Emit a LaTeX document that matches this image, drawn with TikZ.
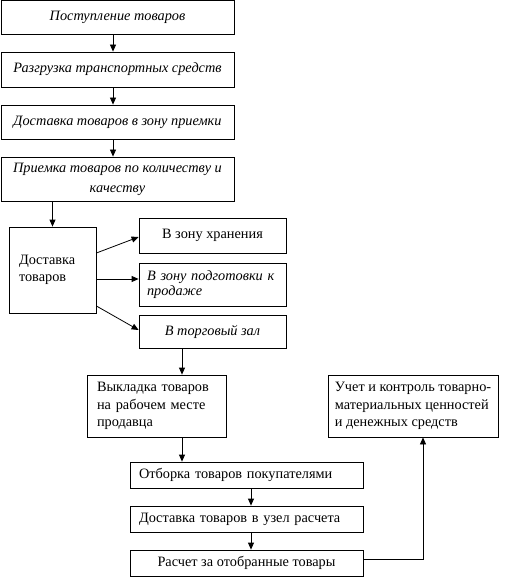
\documentclass[tikz,border=0pt]{standalone}
\usepackage{fontspec}
\setmainfont{Liberation Serif}
\usetikzlibrary{arrows.meta}
\begin{document}
\begin{tikzpicture}[x=1pt,y=-1pt,
  box/.style={draw, line width=0.8pt, inner sep=0pt, font=\fontsize{14.3}{17.5}\selectfont},
  ibox/.style={box, font=\fontsize{14.3}{17.5}\selectfont\itshape},
  lbox/.style={box, text width=215, align=left, inner xsep=9pt},
  arr/.style={draw, line width=0.8pt, -{Triangle[length=7pt,width=6pt]}}]
\useasboundingbox (0,0) rectangle (510,577);
\node[ibox, minimum width=233, minimum height=34] (b1) at (117.5,17.5) {Поступление товаров};
\node[ibox, minimum width=233, minimum height=35] (b2) at (117.5,69.5) {Разгрузка транспортных средств};
\node[ibox, minimum width=233, minimum height=34] (b3) at (117.5,122) {Доставка товаров в зону приемки};
\node[ibox, minimum width=233, minimum height=44, align=center, font=\fontsize{14.3}{20}\selectfont\itshape] (b4) at (117.5,179) {Приемка товаров по количеству и\\качеству};
\node[box, minimum width=87, minimum height=86, text width=67, align=left, inner xsep=10pt] (dost) at (52.5,270) {Доставка\\товаров\\[2pt]};
\node[box, minimum width=147, minimum height=35] (z1) at (212.5,235.5) {В зону хранения};
\node[ibox, minimum width=147, minimum height=43, text width=131, align=left, inner xsep=8pt, font=\fontsize{14.3}{15}\selectfont\itshape] (z2) at (212.5,284.5) {В зону подготовки к\\продаже};
\node[ibox, minimum width=147, minimum height=33] (z3) at (212.5,331.5) {В торговый зал};
\node[box, minimum width=139, minimum height=62, text width=119, align=left, inner xsep=10pt] (vyk) at (156.5,406) {Выкладка товаров\\на рабочем месте\\продавца};
\node[box, minimum width=170, minimum height=62, align=left] (uch) at (413,406) {Учет и контроль товарно-\\материальных ценностей\\и денежных средств};
\node[lbox, minimum width=233, minimum height=26] (otb) at (246.5,475) {Отборка товаров покупателями};
\node[lbox, minimum width=233, minimum height=26] (dost2) at (246.5,519) {Доставка товаров в узел расчета};
\node[box, minimum width=233, minimum height=26] (rasch) at (246.5,563) {Расчет за отобранные товары};
\draw[arr] ([xshift=-4.5pt]b1.south) -- ([xshift=-4.5pt]b2.north);
\draw[arr] ([xshift=-4.5pt]b2.south) -- ([xshift=-4.5pt]b3.north);
\draw[arr] ([xshift=-4.5pt]b3.south) -- ([xshift=-4.5pt]b4.north);
\draw[arr] (b4.south -| dost.north) -- (dost.north);
\draw[arr] ([yshift=17pt]dost.east) -- ([yshift=-1.5pt]z1.west);
\draw[arr] ([yshift=-9pt]dost.east) -- ([yshift=-9pt]dost.east -| z2.west);
\draw[arr] ([yshift=-36pt]dost.east) -- ([yshift=1.5pt]z3.west);
\draw[arr] ([xshift=25.5pt]vyk.north |- z3.south) -- ([xshift=25.5pt]vyk.north);
\draw[arr] ([xshift=25.5pt]vyk.south) -- ([xshift=25.5pt]vyk.south |- otb.north);
\draw[arr] ([xshift=4.5pt]otb.south) -- ([xshift=4.5pt]dost2.north);
\draw[arr] ([xshift=4.5pt]dost2.south) -- ([xshift=4.5pt]rasch.north);
\draw[arr] ([yshift=4pt]rasch.east) -| ([xshift=10pt]uch.south);
\end{tikzpicture}
\end{document}
